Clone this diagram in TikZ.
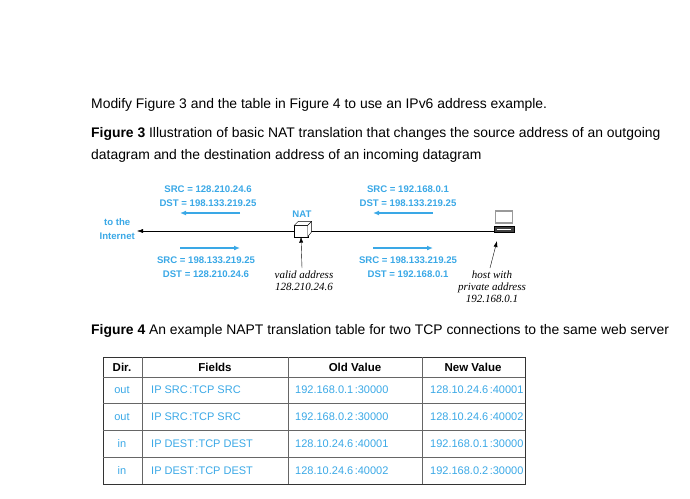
\documentclass[tikz,border=0pt]{standalone}
\usepackage{fontspec}
\setmainfont{Liberation Sans}
\newfontfamily\serifit{Liberation Serif}
\usetikzlibrary{arrows.meta}
\definecolor{cy}{HTML}{3AA8E6}
\newcommand\cln{\kern1.5pt:}
\begin{document}
\begin{tikzpicture}[x=1pt,y=-1pt,
  body/.style={anchor=base west,font=\fontsize{13.9}{16}\selectfont,inner sep=0},
  lab/.style={text=cy,font=\fontsize{9.6}{13.5}\selectfont\bfseries,inner sep=0,align=center},
  it/.style={font=\fontsize{11}{12}\selectfont\serifit\itshape,inner sep=0,align=center},
  carr/.style={cy,line width=1.6pt,-{Latex[length=6pt,width=5pt]}},
  cell/.style={anchor=west,inner sep=0,font=\fontsize{11}{13}\selectfont,text=cy},
  hd/.style={inner sep=0,font=\fontsize{11.5}{13}\selectfont\bfseries}]
\useasboundingbox (0,0) rectangle (690,498);
\node[body] (l1) at (91,108) {Modify Figure 3 and the table in Figure 4 to use an IPv6 address example.};
\node[body] (l2) at (91,137) {\textbf{Figure 3} Illustration of basic NAT translation that changes the source address of an outgoing};
\node[body] (l3) at (91,159) {datagram and the destination address of an incoming datagram};
% diagram
\node[lab,anchor=east] (inet) at (135,229) {to the\\Internet};
\coordinate (host) at (497,231);
\node[minimum width=13pt,minimum height=11pt,inner sep=0] (nat) at (301,231) {};
\draw[-{Latex[length=6pt,width=4pt]}] (host) -- (137,231);
\draw[fill=white] (nat.north west) rectangle (nat.south east);
\draw[fill=white] (nat.north west) -- ++(4,-4) -- ++(13,0) -- ++(0,11) -- (nat.south east) -- (nat.north east) -- cycle;
\draw (nat.north east) -- ++(4,-4);
\node[lab] (natl) at (302,214) {NAT};
% computer
\node[draw=black!40,line width=1.2pt,minimum width=17pt,minimum height=12pt,inner sep=0] (scr) at (504,217) {};
\node[draw,fill=black!75,minimum width=20pt,minimum height=6pt,inner sep=0] (pc) at (504,229) {};
\draw[white,line width=0.5pt] (497,229) -- (511,229);
% labels
\node[lab] (tl) at (208,196) {SRC = 128.210.24.6\\DST = 198.133.219.25};
\coordinate (tla) at (240,213); \coordinate (tlb) at (180,213);
\draw[carr] (tla) -- (tlb);
\node[lab] (tr) at (408,196) {SRC = 192.168.0.1\\DST = 198.133.219.25};
\coordinate (tra) at (433,213); \coordinate (trb) at (373,213);
\draw[carr] (tra) -- (trb);
\coordinate (bla) at (180,248); \coordinate (blb) at (240,248);
\draw[carr] (bla) -- (blb);
\node[lab] (bl) at (206,267) {SRC = 198.133.219.25\\DST = 128.210.24.6};
\coordinate (bra) at (373,248); \coordinate (brb) at (433,248);
\draw[carr] (bra) -- (brb);
\node[lab] (br) at (408,267) {SRC = 198.133.219.25\\DST = 192.168.0.1};
\node[it] (va) at (304,281) {valid address\\128.210.24.6};
\draw[-{Latex[length=6pt,width=4pt]}] (302,268) -- (nat.south);
\node[it] (hw) at (492,287) {host with\\private address\\192.168.0.1};
\draw[-{Latex[length=6pt,width=4pt]}] (490,268) -- (497,241);
\node[body] (l4) at (91,334) {\textbf{Figure 4} An example NAPT translation table for two TCP connections to the same web server};
% table
\draw[black!80,line width=1pt] (103,357) rectangle (525,484);
\foreach \y in {377,403,430,457} \draw[black!60,line width=0.7pt] (103,\y) -- (525,\y);
\foreach \x in {142,288,422} \draw[black!60,line width=0.7pt] (\x,357) -- (\x,484);
\node[hd] (h1) at (122,367) {Dir.};
\node[hd] (h2) at (215,367) {Fields};
\node[hd] (h3) at (355,367) {Old Value};
\node[hd] (h4) at (473,367) {New Value};
\node[cell,anchor=center] (d1) at (122,390) {out};
\node[cell,anchor=center] (d2) at (122,416.5) {out};
\node[cell,anchor=center] (d3) at (122,443.5) {in};
\node[cell,anchor=center] (d4) at (122,470.5) {in};
\node[cell] (f1) at (151,390) {IP SRC\cln TCP SRC};
\node[cell] (f2) at (151,416.5) {IP SRC\cln TCP SRC};
\node[cell] (f3) at (151,443.5) {IP DEST\cln TCP DEST};
\node[cell] (f4) at (151,470.5) {IP DEST\cln TCP DEST};
\node[cell] (o1) at (295,390) {192.168.0.1\cln 30000};
\node[cell] (o2) at (295,416.5) {192.168.0.2\cln 30000};
\node[cell] (o3) at (295,443.5) {128.10.24.6\cln 40001};
\node[cell] (o4) at (295,470.5) {128.10.24.6\cln 40002};
\node[cell] (n1) at (430,390) {128.10.24.6\cln 40001};
\node[cell] (n2) at (430,416.5) {128.10.24.6\cln 40002};
\node[cell] (n3) at (430,443.5) {192.168.0.1\cln 30000};
\node[cell] (n4) at (430,470.5) {192.168.0.2\cln 30000};
\end{tikzpicture}
\end{document}
